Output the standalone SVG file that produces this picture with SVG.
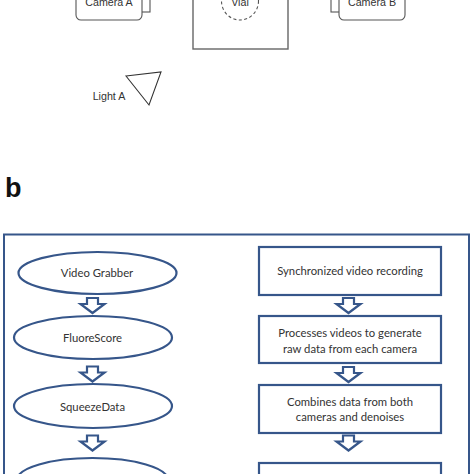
<svg xmlns="http://www.w3.org/2000/svg" width="474" height="474" viewBox="0 0 474 474">
<defs>
<style>
.d{fill:#fff;stroke:#555;stroke-width:1.1}
.g{fill:#fff;stroke:#666;stroke-width:1.4}
.n{fill:#fff;stroke:#36568a;stroke-width:2.2}
.a{fill:#fff;stroke:#36568a;stroke-width:2.2;stroke-linejoin:miter}
.h{font-family:"Liberation Sans",Arial,sans-serif;font-size:10.7px;fill:#333;text-anchor:middle}
.t{font-family:Lato,"Open Sans",sans-serif;font-size:11.3px;fill:#333;text-anchor:middle}
</style>
<path id="arr" d="M-5.5 -7.5H5.5V-1.5H12L0 7.5L-12 -1.5H-5.5Z"/>
</defs>
<rect width="474" height="474" fill="#fff"/>
<g id="camera-a">
<rect class="d" x="130" y="-10" width="20" height="22"/>
<rect class="d" x="76" y="-20" width="66" height="40" rx="5"/>
<text class="h" x="109" y="6">Camera A</text>
</g>
<g id="stage">
<rect class="g" x="193" y="-10" width="95" height="59"/>
</g>
<g id="vial">
<ellipse cx="240" cy="1" rx="18.5" ry="19" fill="#fff" stroke="#555" stroke-width="1.1" stroke-dasharray="3 2.5"/>
<text class="h" x="240" y="6">Vial</text>
</g>
<g id="camera-b">
<rect class="d" x="331" y="-10" width="20" height="22"/>
<rect class="d" x="339" y="-20" width="66" height="40" rx="5"/>
<text class="h" x="372" y="6">Camera B</text>
</g>
<g id="light-a">
<path d="M126 76L161 72L149 105Z" fill="#fff" stroke="#333" stroke-width="1.1"/>
<text class="h" x="109" y="100">Light A</text>
</g>
<text x="5" y="197" font-family="'Liberation Sans',Arial,sans-serif" font-size="27" font-weight="700" fill="#111">b</text>
<rect id="panel" x="4" y="234.5" width="465" height="260" fill="#fff" stroke="#36568a" stroke-width="2"/>
<g id="connectors">
<use href="#arr" class="a" x="92.5" y="305.5"/>
<use href="#arr" class="a" x="92.5" y="374"/>
<use href="#arr" class="a" x="92.5" y="443"/>
<use href="#arr" class="a" x="348.5" y="305.5"/>
<use href="#arr" class="a" x="348.5" y="374.5"/>
<use href="#arr" class="a" x="348.5" y="443"/>
</g>
<g id="video-grabber">
<ellipse class="n" cx="97.5" cy="273" rx="79" ry="21"/>
<text class="t" x="97" y="277">Video Grabber</text>
</g>
<g id="fluorescore">
<ellipse class="n" cx="93" cy="337.5" rx="79" ry="21.5"/>
<text class="t" x="92.5" y="342">FluoreScore</text>
</g>
<g id="squeezedata">
<ellipse class="n" cx="93" cy="406" rx="79" ry="22"/>
<text class="t" x="92.5" y="410.5">SqueezeData</text>
</g>
<g id="fourth-ellipse">
<ellipse class="n" cx="92.5" cy="480" rx="75.5" ry="22"/>
</g>
<g id="sync">
<rect class="n" x="259" y="247" width="182" height="48"/>
<text class="t" x="350" y="275">Synchronized video recording</text>
</g>
<g id="process">
<rect class="n" x="259" y="316" width="182" height="47"/>
<text class="t" x="350" y="337">Processes videos to generate</text>
<text class="t" x="350" y="353">raw data from each camera</text>
</g>
<g id="combine">
<rect class="n" x="259" y="385" width="182" height="48"/>
<text class="t" x="350" y="406">Combines data from both</text>
<text class="t" x="350" y="421">cameras and denoises</text>
</g>
<g id="fourth-box">
<rect class="n" x="259" y="463" width="182" height="30"/>
</g>
</svg>
